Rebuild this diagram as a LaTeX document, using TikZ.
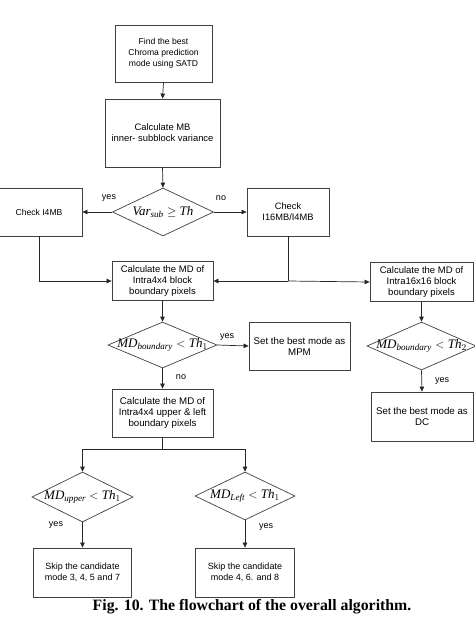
\documentclass[tikz,border=0pt]{standalone}
\usepackage[no-math]{fontspec}
\usepackage{amsmath}
\newfontfamily\arialfont{Liberation Sans}
\newfontfamily\capfont{Liberation Serif}
\usetikzlibrary{shapes.geometric,arrows.meta}
\newcommand{\fs}[1]{\arialfont\fontsize{#1}{11}\selectfont}
\newcommand{\ti}[1]{\text{\capfont\itshape #1}}
\begin{document}
\begin{tikzpicture}[x=1pt,y=-1pt,
  box/.style={draw=black!75,line width=0.8pt,rectangle,inner sep=0pt,align=center,
    font=\fs{9.3}},
  dia/.style={draw=black!75,line width=0.7pt,diamond,inner sep=0pt},
  mathtxt/.style={inner sep=0pt,font=\fontsize{13}{15}\selectfont},
  lbl/.style={inner sep=0pt,font=\fs{9}},
  arr/.style={draw=black!85,line width=0.7pt,-{Triangle[length=5pt,width=4.5pt]}},
  ln/.style={draw=black!85,line width=0.7pt}]
\useasboundingbox (0,0) rectangle (474,618);

\node[box,minimum width=97,minimum height=57,font=\fs{8.6}] (b1) at (163.5,53.5) {Find the best\\Chroma prediction\\mode using SATD};
\node[box,minimum width=115,minimum height=68,font=\fs{9.4}] (b2) at (162.5,133) {Calculate MB\\inner- subblock variance};
\node[dia,minimum width=101,minimum height=48] (d1) at (163,212) {};
\node[mathtxt] (t1) at (d1) {$\ti{Var}_{\ti{sub}} \geq \ti{Th}$};
\node[box,minimum width=86,minimum height=48,font=\fs{8.6}] (c4) at (39,212) {Check I4MB};
\node[box,minimum width=82,minimum height=48,font=\fs{9.3}] (c16) at (288,212) {Check\\I16MB/I4MB};

\node[box,minimum width=101,minimum height=39,font=\fs{9.5}] (m1) at (162.5,281) {Calculate the MD of\\Intra4x4 block\\boundary pixels};
\node[box,minimum width=103,minimum height=39,font=\fs{9.5}] (m16) at (421.5,282) {Calculate the MD of\\Intra16x16 block\\boundary pixels};

\node[dia,minimum width=109,minimum height=46] (d2) at (162.5,345) {};
\node[mathtxt] (t2) at (d2) {$\ti{MD}_{\ti{boundary}} < \ti{Th}_{1}$};
\node[box,minimum width=101,minimum height=48,font=\fs{9.7}] (mpm) at (299.5,346) {Set the best mode as\\MPM};
\node[dia,minimum width=109,minimum height=48] (d5) at (421.5,346) {};
\node[mathtxt] (t5) at (d5) {$\ti{MD}_{\ti{boundary}} < \ti{Th}_{2}$};
\node[box,minimum width=102,minimum height=49,font=\fs{9.7}] (dc) at (422,416.5) {Set the best mode as\\DC};

\node[box,minimum width=101,minimum height=48,font=\fs{9.7}] (m2) at (162.5,413) {Calculate the MD of\\Intra4x4 upper \& left\\boundary pixels};

\node[dia,minimum width=101,minimum height=50] (d3) at (82.5,497) {};
\node[mathtxt] (t3) at (d3) {$\ti{MD}_{\ti{upper}} < \ti{Th}_{1}$};
\node[dia,minimum width=100,minimum height=48] (d4) at (245,496) {};
\node[mathtxt] (t4) at (d4) {$\ti{MD}_{\ti{Left}} < \ti{Th}_{1}$};

\node[box,minimum width=98,minimum height=49,font=\fs{9}] (s1) at (82.5,572.5) {Skip the candidate\\mode 3, 4, 5 and 7};
\node[box,minimum width=99,minimum height=49,font=\fs{9}] (s2) at (245,572.5) {Skip the candidate\\mode 4, 6. and 8};

\node[inner sep=0pt,font=\capfont\bfseries\fontsize{15.8}{18}\selectfont] (cap) at (252,607) {Fig. 10. The flowchart of the overall algorithm.};

% connectors
\draw[arr] (b1.south) -- (b2.north);
\draw[arr] (b2.south) -- (d1.north);
\draw[arr] (d1.west) -- (c4.east);
\draw[arr] (d1.east) -- (c16.west);
\node[lbl] (ly1) at (109,198) {yes};
\node[lbl] (ln1) at (221,198) {no};
\draw[arr] (c4.south) |- (m1.west);
\coordinate (j1) at (c16.south |- m1.east);
\draw[ln] (c16.south) -- (j1);
\draw[arr] (j1) -- (m1.east);
\draw[arr] (j1) -- (m16.west);
\draw[arr] (m1.south) -- (d2.north);
\draw[arr] (d2.east) -- (mpm.west);
\node[lbl] (ly2) at (227,337) {yes};
\draw[arr] (d2.south) -- (m2.north);
\node[lbl] (ln2) at (181,377) {no};
\draw[arr] (m16.south) -- (d5.north);
\draw[arr] (d5.south) -- (dc.north);
\node[lbl] (ly5) at (442,381) {yes};
\coordinate (j2) at (162.5,449);
\draw[ln] (m2.south) -- (j2);
\draw[arr] (j2) -| (d3.north);
\draw[arr] (j2) -| (d4.north);
\draw[arr] (d3.south) -- (s1.north);
\node[lbl] (ly3) at (56,525) {yes};
\draw[arr] (d4.south) -- (s2.north);
\node[lbl] (ly4) at (266,527) {yes};
\end{tikzpicture}
\end{document}
